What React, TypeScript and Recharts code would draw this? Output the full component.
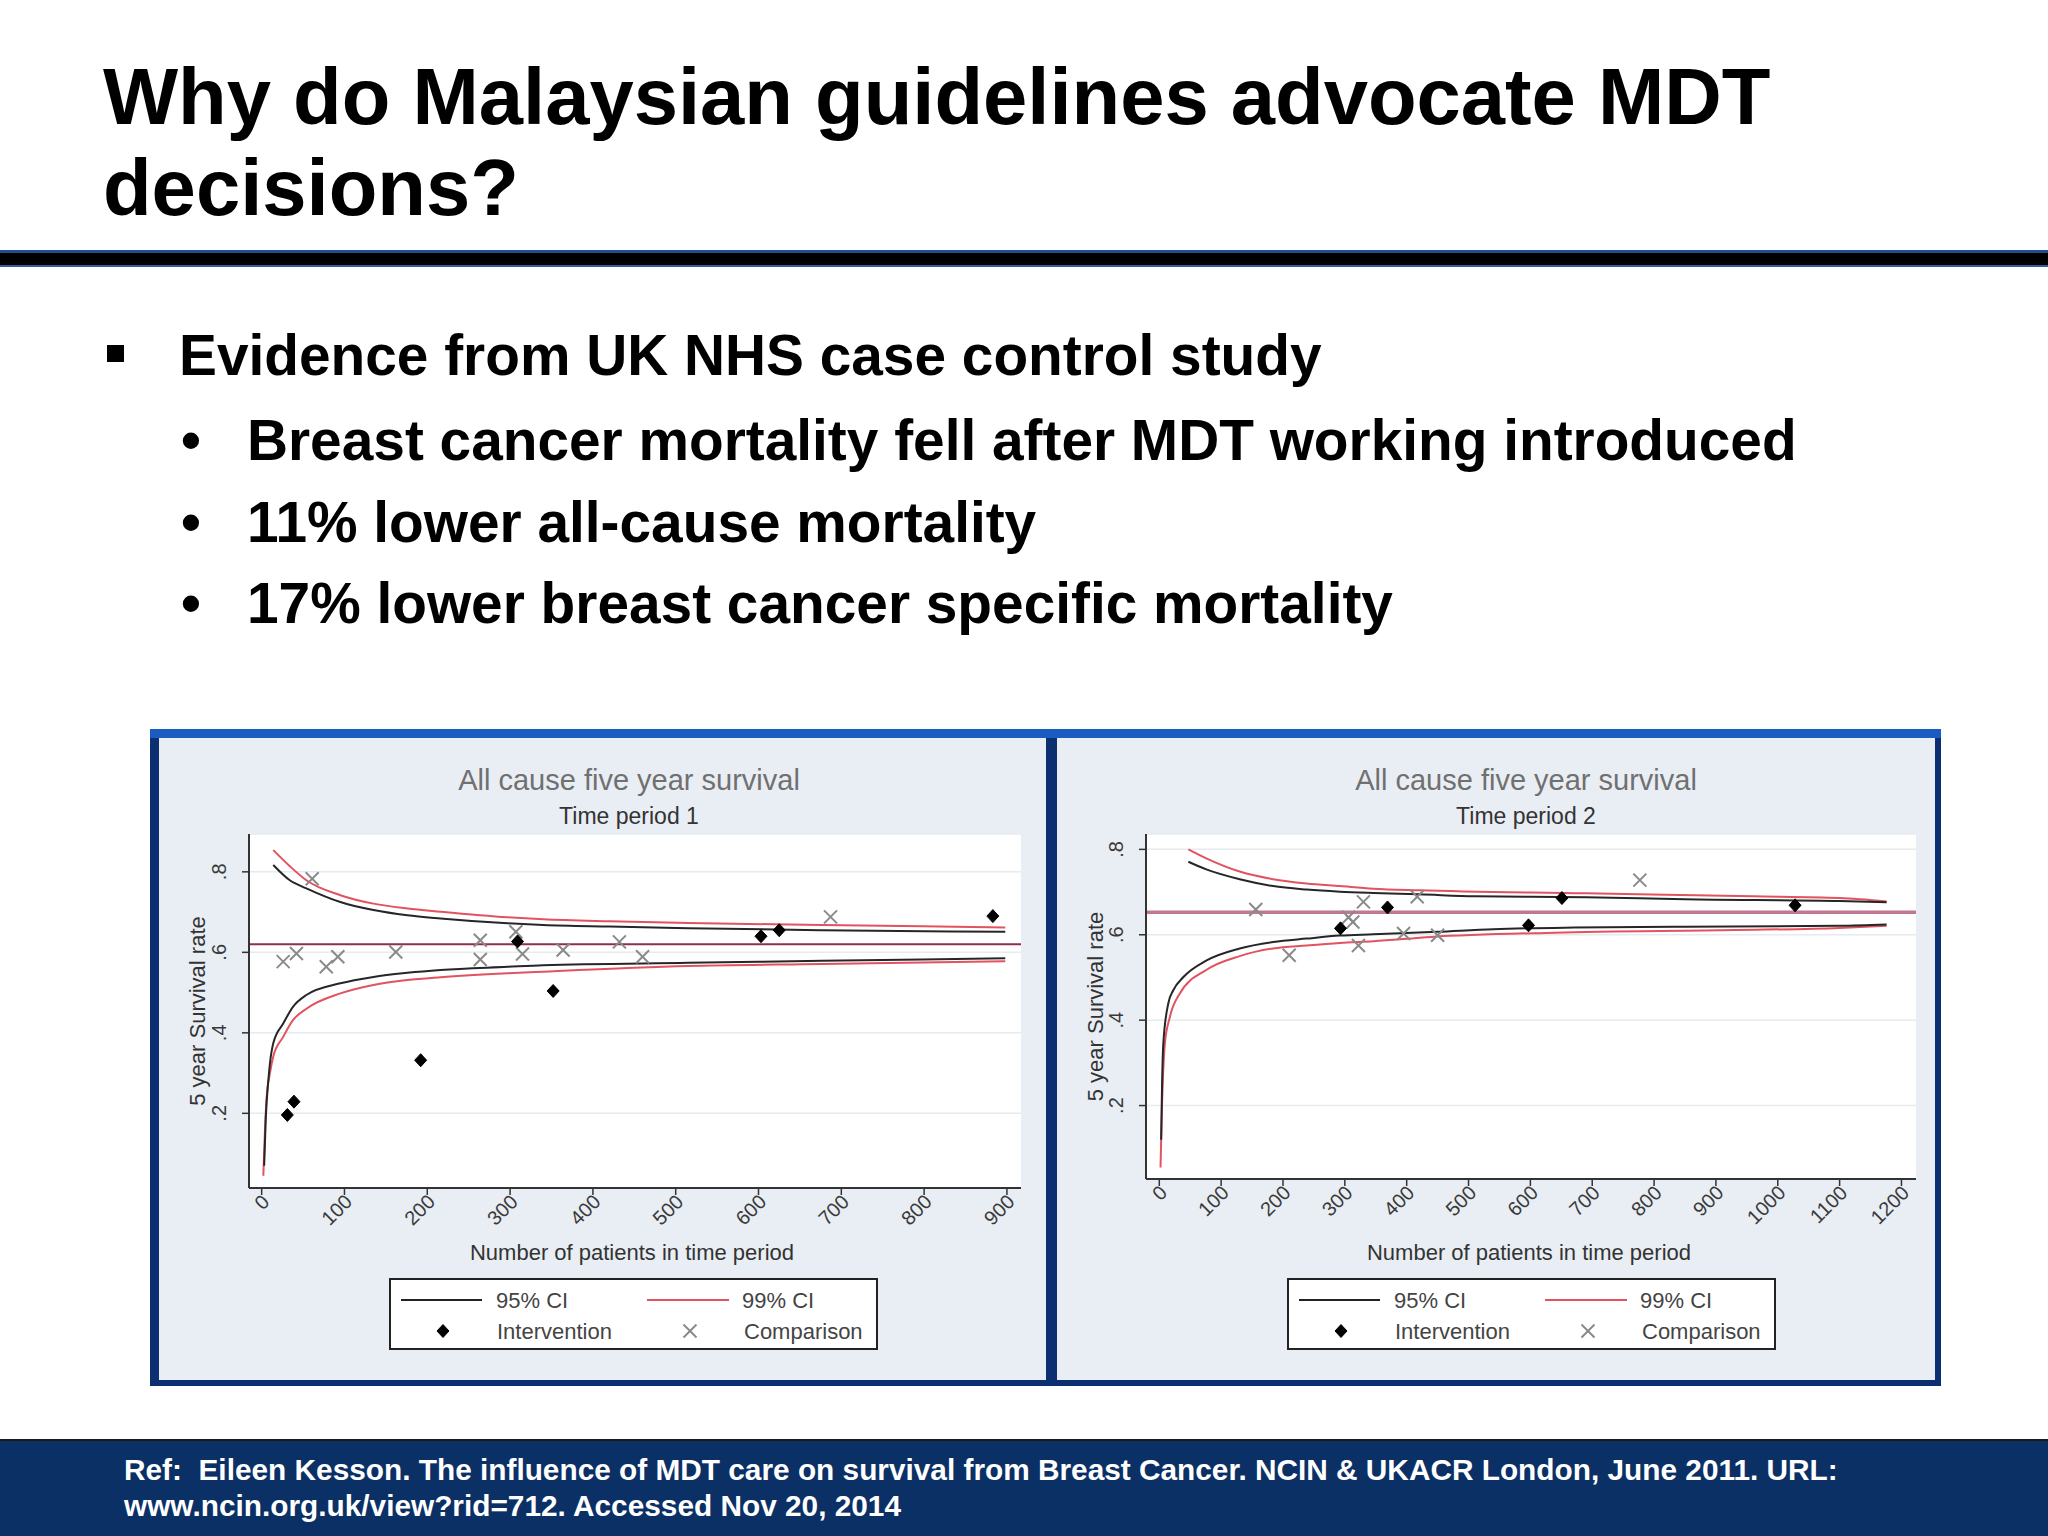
import {
  ComposedChart,
  Line,
  Scatter,
  XAxis,
  YAxis,
  CartesianGrid,
  ReferenceLine,
} from "recharts"

const FONT = '"Liberation Sans", Arial, Helvetica, sans-serif'

type Pt = [number, number]

// ---- time period 1 ----
const p1Ticks = [0, 100, 200, 300, 400, 500, 600, 700, 800, 900]
const p1Mean = 0.62
const p1Upper95: Pt[] = [
  [14, 0.817], [34, 0.779], [54, 0.759], [95, 0.725], [135, 0.705], [176, 0.692],
  [216, 0.684], [297, 0.672], [340, 0.668], [420, 0.664], [515, 0.66], [677, 0.655], [898, 0.651],
]
const p1Upper99: Pt[] = [
  [14, 0.854], [34, 0.814], [54, 0.779], [95, 0.742], [135, 0.721], [176, 0.709],
  [216, 0.701], [297, 0.687], [340, 0.682], [420, 0.677], [515, 0.673], [677, 0.668], [898, 0.662],
]
const p1Lower95: Pt[] = [
  [3, 0.07], [5, 0.19], [8, 0.28], [10, 0.324], [14, 0.374], [26, 0.423], [38, 0.465],
  [54, 0.494], [95, 0.523], [135, 0.539], [176, 0.549], [216, 0.556], [297, 0.564],
  [340, 0.568], [515, 0.574], [677, 0.579], [898, 0.585],
]
const p1Lower99: Pt[] = [
  [2, 0.045], [4, 0.16], [6, 0.24], [10, 0.3], [14, 0.341], [26, 0.39], [38, 0.432],
  [54, 0.46], [95, 0.498], [135, 0.519], [176, 0.531], [216, 0.538], [297, 0.548],
  [340, 0.552], [515, 0.566], [677, 0.571], [898, 0.578],
]
const p1Intervention: Pt[] = [
  [31, 0.196], [39, 0.229], [192, 0.332], [309, 0.627], [352, 0.504], [603, 0.64], [625, 0.655], [883, 0.69],
]
const p1Comparison: Pt[] = [
  [26, 0.577], [42, 0.597], [61, 0.783], [78, 0.564], [92, 0.589], [162, 0.601], [264, 0.63],
  [264, 0.582], [307, 0.651], [315, 0.596], [364, 0.606], [432, 0.626], [460, 0.589], [687, 0.688],
]

// ---- time period 2 ----
const p2Ticks = [0, 100, 200, 300, 400, 500, 600, 700, 800, 900, 1000, 1100, 1200]
const p2Mean = 0.653
const p2Upper95: Pt[] = [
  [47, 0.771], [76, 0.753], [130, 0.73], [184, 0.714], [238, 0.706], [292, 0.701], [346, 0.698],
  [420, 0.695], [510, 0.69], [690, 0.688], [850, 0.683], [1100, 0.679], [1176, 0.676],
]
const p2Upper99: Pt[] = [
  [47, 0.8], [76, 0.779], [130, 0.748], [184, 0.73], [238, 0.72], [292, 0.714], [346, 0.708],
  [420, 0.704], [690, 0.697], [960, 0.69], [1100, 0.686], [1176, 0.678],
]
const p2Lower95: Pt[] = [
  [3, 0.12], [4.5, 0.25], [6.5, 0.345], [14.5, 0.439], [22.6, 0.47], [39, 0.501], [76.5, 0.54], [130, 0.568],
  [184, 0.583], [238, 0.591], [292, 0.598], [346, 0.601], [450, 0.607], [540, 0.613], [670, 0.617],
  [850, 0.619], [1100, 0.621], [1176, 0.624],
]
const p2Lower99: Pt[] = [
  [2, 0.055], [4, 0.18], [9, 0.345], [17, 0.407], [33, 0.462], [76.5, 0.518], [130, 0.55],
  [184, 0.568], [238, 0.575], [292, 0.581], [346, 0.585], [440, 0.595], [640, 0.605], [930, 0.611],
  [1100, 0.616], [1176, 0.621],
]
const p2Intervention: Pt[] = [[293, 0.615], [369, 0.664], [597, 0.622], [651, 0.686], [1028, 0.669]]
const p2Comparison: Pt[] = [
  [156, 0.659], [210, 0.552], [306, 0.641], [313, 0.63], [322, 0.575], [330, 0.677],
  [395, 0.603], [417, 0.689], [450, 0.599], [777, 0.728],
]

const yTicks = [0.2, 0.4, 0.6, 0.8]

const rows = (pts: Pt[]) => pts.map(([n, v]) => ({ n, v }))

function Diamond(props: any) {
  const { cx, cy } = props
  if (cx == null || cy == null) return null
  return (
    <polygon
      points={`${cx},${cy - 6.5} ${cx + 6},${cy} ${cx},${cy + 6.5} ${cx - 6},${cy}`}
      fill="#000"
      stroke="#000"
      strokeWidth={1}
      strokeLinejoin="round"
    />
  )
}

function Cross(props: any) {
  const { cx, cy } = props
  if (cx == null || cy == null) return null
  const r = 6.5
  return (
    <g stroke="#8a8a8a" strokeWidth={2}>
      <line x1={cx - r} y1={cy - r} x2={cx + r} y2={cy + r} />
      <line x1={cx - r} y1={cy + r} x2={cx + r} y2={cy - r} />
    </g>
  )
}

function XTick(props: any) {
  const { x, y, payload } = props
  const ax = x + 9
  const ay = y + 6
  return (
    <text
      x={ax}
      y={ay}
      transform={`rotate(-45, ${ax}, ${ay})`}
      textAnchor="end"
      fontSize={20}
      fontFamily={FONT}
      fill="#3a3a3a"
    >
      {payload.value}
    </text>
  )
}

function YTick(props: any) {
  const { x, y, payload } = props
  const bx = x - 14
  return (
    <text
      x={bx}
      y={y}
      transform={`rotate(-90, ${bx}, ${y})`}
      textAnchor="middle"
      fontSize={20}
      fontFamily={FONT}
      fill="#3a3a3a"
    >
      {String(payload.value).replace(/^0/, "")}
    </text>
  )
}

interface PanelProps {
  left: number
  width: number
  chartHeight: number
  yAxisWidth: number
  marginRight: number
  subtitle: string
  xDomain: [number, number]
  yDomain: [number, number]
  xTicks: number[]
  mean: number
  meanColor: string
  meanWidth: number
  upper95: Pt[]
  upper99: Pt[]
  lower95: Pt[]
  lower99: Pt[]
  intervention: Pt[]
  comparison: Pt[]
}

function FunnelPanel(p: PanelProps) {
  const plotTop = 96
  const plotBottom = 82 + p.chartHeight - 52
  const midY = (plotTop + plotBottom) / 2
  const cx = p.width / 2 + 30
  return (
    <div style={{ position: "absolute", left: p.left, top: 738, width: p.width, height: 642 }}>
      <svg width={p.width} height={642} style={{ position: "absolute", left: 0, top: 0 }}>
        <text x={cx} y={52} textAnchor="middle" fontSize={29} fontFamily={FONT} fill="#707070">
          All cause five year survival
        </text>
        <text x={cx} y={86} textAnchor="middle" fontSize={23} fontFamily={FONT} fill="#333">
          {p.subtitle}
        </text>
        <text
          x={46}
          y={midY}
          transform={`rotate(-90, 46, ${midY})`}
          textAnchor="middle"
          fontSize={22}
          fontFamily={FONT}
          fill="#333"
        >
          5 year Survival rate
        </text>
        <text x={cx + 3} y={522} textAnchor="middle" fontSize={22} fontFamily={FONT} fill="#333">
          Number of patients in time period
        </text>
        <g fontFamily={FONT} fontSize={22} fill="#444">
          <rect x={231} y={541} width={487} height={70} fill="#fff" stroke="#222" strokeWidth={2} />
          <line x1={242} y1={562} x2={323} y2={562} stroke="#222" strokeWidth={2} />
          <text x={337} y={570}>95% CI</text>
          <line x1={488} y1={562} x2={570} y2={562} stroke="#e2525f" strokeWidth={2} />
          <text x={583} y={570}>99% CI</text>
          <Diamond cx={284} cy={593} />
          <text x={338} y={601}>Intervention</text>
          <Cross cx={531} cy={593} />
          <text x={585} y={601}>Comparison</text>
        </g>
      </svg>
      <div style={{ position: "absolute", left: 0, top: 82 }}>
        <ComposedChart
          width={p.width}
          height={p.chartHeight}
          margin={{ top: 14, right: p.marginRight, bottom: 0, left: 0 }}
        >
          <CartesianGrid vertical={false} fill="#ffffff" fillOpacity={1} stroke="#e6ebf1" strokeWidth={1.5} />
          <XAxis
            type="number"
            dataKey="n"
            domain={p.xDomain}
            ticks={p.xTicks}
            interval={0}
            allowDataOverflow
            height={52}
            tickSize={7}
            tick={XTick}
            axisLine={{ stroke: "#333", strokeWidth: 2 }}
            tickLine={{ stroke: "#333", strokeWidth: 1.5 }}
          />
          <YAxis
            type="number"
            dataKey="v"
            domain={p.yDomain}
            ticks={yTicks}
            interval={0}
            allowDataOverflow
            width={p.yAxisWidth}
            tickSize={7}
            tick={YTick}
            axisLine={{ stroke: "#333", strokeWidth: 2 }}
            tickLine={{ stroke: "#333", strokeWidth: 1.5 }}
          />
          <ReferenceLine y={p.mean} stroke={p.meanColor} strokeWidth={p.meanWidth} />
          <Line data={rows(p.upper99)} dataKey="v" type="monotone" stroke="#e2525f" strokeWidth={2} dot={false} activeDot={false} isAnimationActive={false} />
          <Line data={rows(p.lower99)} dataKey="v" type="monotone" stroke="#e2525f" strokeWidth={2} dot={false} activeDot={false} isAnimationActive={false} />
          <Line data={rows(p.upper95)} dataKey="v" type="monotone" stroke="#262626" strokeWidth={2} dot={false} activeDot={false} isAnimationActive={false} />
          <Line data={rows(p.lower95)} dataKey="v" type="monotone" stroke="#262626" strokeWidth={2} dot={false} activeDot={false} isAnimationActive={false} />
          <Scatter data={rows(p.comparison)} dataKey="v" shape={Cross} isAnimationActive={false} />
          <Scatter data={rows(p.intervention)} dataKey="v" shape={Diamond} isAnimationActive={false} />
        </ComposedChart>
      </div>
    </div>
  )
}

const subBullets = [
  "Breast cancer mortality fell after MDT working introduced",
  "11% lower all-cause mortality",
  "17% lower breast cancer specific mortality",
]
const subBaselines = [460, 542, 623]

export default function App() {
  return (
    <div
      style={{
        position: "absolute",
        left: 0,
        top: 0,
        width: 2048,
        height: 1536,
        background: "#fff",
        overflow: "hidden",
        fontFamily: FONT,
      }}
    >
      <svg width={2048} height={1536} style={{ position: "absolute", left: 0, top: 0 }}>
        <g fontFamily={FONT} fontWeight="bold" fill="#000">
          <text x={103} y={124} fontSize={79.6}>Why do Malaysian guidelines advocate MDT</text>
          <text x={103} y={215} fontSize={79.6}>decisions?</text>
        </g>
        <rect x={0} y={250} width={2048} height={3} fill="#1f4f8f" />
        <rect x={0} y={253} width={2048} height={12} fill="#000" />
        <rect x={0} y={265} width={2048} height={2} fill="#2d5f9e" />

        <rect x={107} y={345} width={17} height={17} fill="#000" />
        <g fontFamily={FONT} fontWeight="bold" fontSize={56.8} fill="#000">
          <text x={179} y={375}>Evidence from UK NHS case control study</text>
          {subBullets.map((s, i) => (
            <g key={s}>
              <text x={181} y={subBaselines[i]}>•</text>
              <text x={247} y={subBaselines[i]}>{s}</text>
            </g>
          ))}
        </g>

        <rect x={150} y={729} width={1791} height={657} fill="#0c2f72" />
        <rect x={150} y={729} width={1791} height={9} fill="#1b5cc2" />
        <rect x={159} y={738} width={887} height={642} fill="#e9eef4" />
        <rect x={1057} y={738} width={878} height={642} fill="#e9eef4" />

        <rect x={0} y={1439} width={2048} height={97} fill="#0b3066" />
        <rect x={0} y={1439} width={2048} height={2} fill="#1a1a1a" />
        <g fontFamily={FONT} fontWeight="bold" fontSize={29.8} fill="#fff" style={{ whiteSpace: "pre" }}>
          <text x={124} y={1480} xmlSpace="preserve">
            {"Ref:  Eileen Kesson. The influence of MDT care on survival from Breast Cancer. NCIN & UKACR London, June 2011. URL:"}
          </text>
          <text x={124} y={1516}>www.ncin.org.uk/view?rid=712. Accessed Nov 20, 2014</text>
        </g>
      </svg>

      <FunnelPanel
        left={159}
        width={880}
        chartHeight={420}
        yAxisWidth={90}
        marginRight={18}
        subtitle="Time period 1"
        xDomain={[-15.3, 917]}
        yDomain={[0.0145, 0.894]}
        xTicks={p1Ticks}
        mean={p1Mean}
        meanColor="#8e2f4c"
        meanWidth={2}
        upper95={p1Upper95}
        upper99={p1Upper99}
        lower95={p1Lower95}
        lower99={p1Lower99}
        intervention={p1Intervention}
        comparison={p1Comparison}
      />
      <FunnelPanel
        left={1057}
        width={878}
        chartHeight={411}
        yAxisWidth={89}
        marginRight={19}
        subtitle="Time period 2"
        xDomain={[-21.5, 1223.5]}
        yDomain={[0.028, 0.836]}
        xTicks={p2Ticks}
        mean={p2Mean}
        meanColor="#c07890"
        meanWidth={3.5}
        upper95={p2Upper95}
        upper99={p2Upper99}
        lower95={p2Lower95}
        lower99={p2Lower99}
        intervention={p2Intervention}
        comparison={p2Comparison}
      />
    </div>
  )
}
